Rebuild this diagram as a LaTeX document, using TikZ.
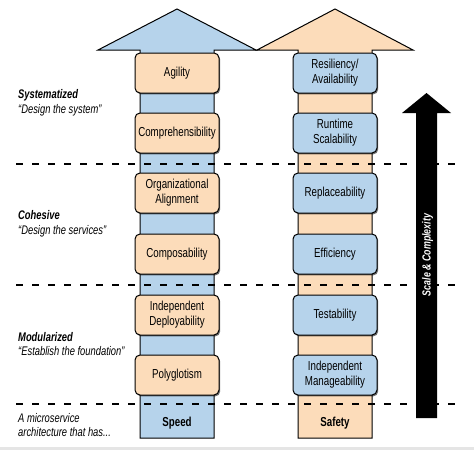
\documentclass[tikz,border=0pt]{standalone}
\usepackage{fontspec}
\setmainfont{Liberation Sans}[FakeStretch=0.75]
\usetikzlibrary{shadows}
\definecolor{sblue}{RGB}{182,211,235}
\definecolor{speach}{RGB}{252,220,186}
\begin{document}
\begin{tikzpicture}[x=1pt,y=-1pt,
  qbox/.style={draw=black, line width=1pt, rounded corners=5pt, minimum width=84pt, minimum height=40pt, inner sep=1pt, align=center,
    font=\fontsize{13}{15}\selectfont,
    drop shadow={shadow xshift=1.2pt,shadow yshift=-1.4pt,opacity=0.55,fill=black}},
  bluebox/.style={qbox, fill=sblue},
  peachbox/.style={qbox, fill=speach},
  shaft/.style={draw=black, line width=1pt, line join=miter},
  sep/.style={dash pattern=on 7pt off 9pt, line width=1.3pt},
  lab/.style={anchor=west, align=left, inner sep=0pt, font=\fontsize{12.5}{14.5}\selectfont},
  base/.style={font=\fontsize{13}{15}\selectfont\bfseries}]
\useasboundingbox (0,0) rectangle (474,450);
\fill[white] (0,0) rectangle (474,450);
\fill[black!10] (0,447) rectangle (474,450);
% arrows (shafts)
\draw[shaft, fill=sblue] (140,438) -- (140,50) -- (98,50) -- (177,9) -- (256,50) -- (214,50) -- (214,438) -- cycle;
\draw[shaft, fill=speach] (298,438) -- (298,50) -- (257,50) -- (335,9) -- (413,50) -- (372,50) -- (372,438) -- cycle;
% scale arrow
\fill[black] (416,418) -- (416,113) -- (402,113) -- (426.5,93) -- (451,113) -- (437,113) -- (437,418) -- cycle;
\node[rotate=90, text=white, font=\fontsize{11.8}{13}\selectfont\bfseries\itshape] (scale) at (427.5,255) {Scale \& Complexity};
% separators
\draw[sep] (16,164) -- (458,164);
\draw[sep] (16,285) -- (458,285);
\draw[sep] (16,404) -- (458,404);
% left column
\node[peachbox] (agility) at (177,73) {Agility};
\node[peachbox] (compre) at (177,133) {Comprehensibility};
\node[peachbox] (orgal) at (177,193) {Organizational\\Alignment};
\node[peachbox] (compo) at (177,254) {Composability};
\node[peachbox] (indep) at (177,315) {Independent\\Deployability};
\node[peachbox] (poly) at (177,375) {Polyglotism};
\node[base] (speed) at (177,423) {Speed};
% right column
\node[bluebox] (resil) at (335,73) {Resiliency/\\Availability};
\node[bluebox] (runtime) at (335,133) {Runtime\\Scalability};
\node[bluebox] (repl) at (335,193) {Replaceability};
\node[bluebox] (eff) at (335,254) {Efficiency};
\node[bluebox] (test) at (335,315) {Testability};
\node[bluebox] (manage) at (335,375) {Independent\\Manageability};
\node[base] (safety) at (335,423) {Safety};
% left labels
\node[lab] (sys) at (18,103) {\textbf{\textit{Systematized}}\\\textit{“Design the system”}};
\node[lab] (coh) at (18,224) {\textbf{\textit{Cohesive}}\\\textit{“Design the services”}};
\node[lab] (mod) at (18,344) {\textbf{\textit{Modularized}}\\\textit{“Establish the foundation”}};
\node[lab] (micro) at (18,425) {\textit{A microservice}\\\textit{architecture that has...}};
\end{tikzpicture}
\end{document}
